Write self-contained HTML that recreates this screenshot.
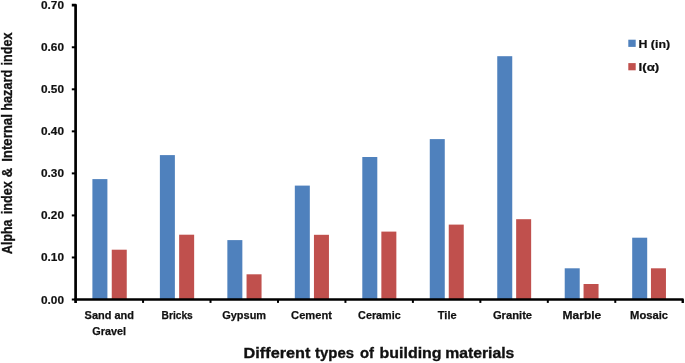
<!DOCTYPE html>
<html lang="en"><head><meta charset="utf-8"><title>Alpha index and internal hazard index</title>
<style>html,body{margin:0;padding:0;background:#fff}body{width:685px;height:363px;overflow:hidden}svg{display:block}text{font-family:"Liberation Sans",sans-serif;font-weight:bold;fill:#111111}</style>
</head><body>
<svg width="685" height="363" viewBox="0 0 685 363">
<rect width="685" height="363" fill="#fff"/>
<g shape-rendering="auto">
<rect x="92.40" y="179.10" width="15.00" height="120.40" fill="#4f81bd"/>
<rect x="111.75" y="249.70" width="15.00" height="49.80" fill="#c0504d"/>
<rect x="159.88" y="155.10" width="15.00" height="144.40" fill="#4f81bd"/>
<rect x="179.15" y="234.70" width="15.00" height="64.80" fill="#c0504d"/>
<rect x="227.35" y="240.10" width="15.00" height="59.40" fill="#4f81bd"/>
<rect x="246.55" y="274.30" width="15.00" height="25.20" fill="#c0504d"/>
<rect x="294.82" y="185.60" width="15.00" height="113.90" fill="#4f81bd"/>
<rect x="313.95" y="234.80" width="15.00" height="64.70" fill="#c0504d"/>
<rect x="362.30" y="157.00" width="15.00" height="142.50" fill="#4f81bd"/>
<rect x="381.35" y="231.60" width="15.00" height="67.90" fill="#c0504d"/>
<rect x="429.77" y="139.10" width="15.00" height="160.40" fill="#4f81bd"/>
<rect x="448.75" y="224.60" width="15.00" height="74.90" fill="#c0504d"/>
<rect x="497.25" y="56.20" width="15.00" height="243.30" fill="#4f81bd"/>
<rect x="516.15" y="219.20" width="15.00" height="80.30" fill="#c0504d"/>
<rect x="564.72" y="268.30" width="15.00" height="31.20" fill="#4f81bd"/>
<rect x="583.55" y="284.00" width="15.00" height="15.50" fill="#c0504d"/>
<rect x="632.20" y="237.70" width="15.00" height="61.80" fill="#4f81bd"/>
<rect x="650.95" y="268.30" width="15.00" height="31.20" fill="#c0504d"/>
</g>
<g fill="none" stroke="#000" stroke-linejoin="round">
<path d="M71.8,5.22 H75.6 V302.9" stroke-width="2.7"/>
<path d="M74.4,299.5 H682.74 V302.9" stroke-width="2.4"/>
<path d="M71.8,299.50 H75" stroke-width="2"/>
<path d="M71.8,257.46 H75" stroke-width="2"/>
<path d="M71.8,215.42 H75" stroke-width="2"/>
<path d="M71.8,173.38 H75" stroke-width="2"/>
<path d="M71.8,131.34 H75" stroke-width="2"/>
<path d="M71.8,89.30 H75" stroke-width="2"/>
<path d="M71.8,47.26 H75" stroke-width="2"/>
<path d="M143.06,299.5 V302.9" stroke-width="2"/>
<path d="M210.52,299.5 V302.9" stroke-width="2"/>
<path d="M277.98,299.5 V302.9" stroke-width="2"/>
<path d="M345.44,299.5 V302.9" stroke-width="2"/>
<path d="M412.90,299.5 V302.9" stroke-width="2"/>
<path d="M480.36,299.5 V302.9" stroke-width="2"/>
<path d="M547.82,299.5 V302.9" stroke-width="2"/>
<path d="M615.28,299.5 V302.9" stroke-width="2"/>
</g>
<g font-size="11.3" stroke="#111" stroke-width="0.2">
<text x="41" y="303.50" textLength="23" lengthAdjust="spacingAndGlyphs">0.00</text>
<text x="41" y="261.46" textLength="23" lengthAdjust="spacingAndGlyphs">0.10</text>
<text x="41" y="219.42" textLength="23" lengthAdjust="spacingAndGlyphs">0.20</text>
<text x="41" y="177.38" textLength="23" lengthAdjust="spacingAndGlyphs">0.30</text>
<text x="41" y="135.34" textLength="23" lengthAdjust="spacingAndGlyphs">0.40</text>
<text x="41" y="93.30" textLength="23" lengthAdjust="spacingAndGlyphs">0.50</text>
<text x="41" y="51.26" textLength="23" lengthAdjust="spacingAndGlyphs">0.60</text>
<text x="41" y="9.22" textLength="23" lengthAdjust="spacingAndGlyphs">0.70</text>
</g>
<g font-size="11.7" stroke="#111" stroke-width="0.25">
<text x="84.6" y="319.2" textLength="49.3" lengthAdjust="spacingAndGlyphs">Sand and</text>
<text x="92.3" y="334.8" textLength="33.8" lengthAdjust="spacingAndGlyphs">Gravel</text>
<text x="161.6" y="319.2" textLength="31.2" lengthAdjust="spacingAndGlyphs">Bricks</text>
<text x="222.2" y="319.2" textLength="43.9" lengthAdjust="spacingAndGlyphs">Gypsum</text>
<text x="291.1" y="319.2" textLength="40.8" lengthAdjust="spacingAndGlyphs">Cement</text>
<text x="358.1" y="319.2" textLength="42.6" lengthAdjust="spacingAndGlyphs">Ceramic</text>
<text x="437.8" y="319.2" textLength="18.9" lengthAdjust="spacingAndGlyphs">Tile</text>
<text x="492.9" y="319.2" textLength="39.2" lengthAdjust="spacingAndGlyphs">Granite</text>
<text x="562.5" y="319.2" textLength="38.8" lengthAdjust="spacingAndGlyphs">Marble</text>
<text x="630.1" y="319.2" textLength="38.0" lengthAdjust="spacingAndGlyphs">Mosaic</text>
</g>
<g font-size="15.5" stroke="#111" stroke-width="0.35">
<text x="243.6" y="357.6" textLength="66.8" lengthAdjust="spacingAndGlyphs">Different</text>
<text x="315.0" y="357.6" textLength="39.0" lengthAdjust="spacingAndGlyphs">types</text>
<text x="360.0" y="357.6" textLength="14.0" lengthAdjust="spacingAndGlyphs">of</text>
<text x="379.6" y="357.6" textLength="62.0" lengthAdjust="spacingAndGlyphs">building</text>
<text x="445.2" y="357.6" textLength="69.2" lengthAdjust="spacingAndGlyphs">materials</text>
</g>
<g font-size="14.0" stroke="#111" stroke-width="0.3" transform="translate(11.8,0) rotate(-90)">
<text x="-253.9" y="0" textLength="34.2" lengthAdjust="spacingAndGlyphs">Alpha</text>
<text x="-214.2" y="0" textLength="33.1" lengthAdjust="spacingAndGlyphs">index</text>
<text x="-177.2" y="0" textLength="9.4" lengthAdjust="spacingAndGlyphs">&amp;</text>
<text x="-161.8" y="0" textLength="47.6" lengthAdjust="spacingAndGlyphs">Internal</text>
<text x="-110.7" y="0" textLength="40.9" lengthAdjust="spacingAndGlyphs">hazard</text>
<text x="-65.4" y="0" textLength="32.9" lengthAdjust="spacingAndGlyphs">index</text>
</g>
<rect x="628.3" y="39.7" width="7.4" height="7.2" fill="#4f81bd"/>
<rect x="628.3" y="63.1" width="7.4" height="7.2" fill="#c0504d"/>
<g font-size="11.6" stroke="#111" stroke-width="0.2">
<text x="638.5" y="47.6" textLength="31.6" lengthAdjust="spacingAndGlyphs">H (in)</text>
<text x="638.5" y="71.1" textLength="20.8" lengthAdjust="spacingAndGlyphs">I(α)</text>
</g>
</svg></body></html>
